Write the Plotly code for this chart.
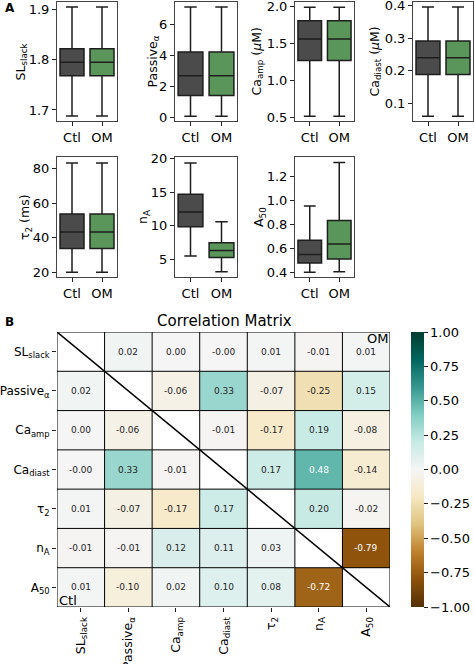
import plotly.graph_objects as go

W, H = 474, 664
FONT = "DejaVu Sans"

# ---------------- Panel A data (box statistics) ----------------
groups = ["Ctl", "OM"]
group_colors = ["#4b4b4b", "#5a965a"]

box_titles = ["SL<sub>slack</sub>", "Passive<sub>α</sub>", "Ca<sub>amp</sub> (<i>μ</i>M)",
              "Ca<sub>diast</sub> (<i>μ</i>M)", "τ<sub>2</sub> (ms)", "n<sub>A</sub>", "A<sub>50</sub>"]

# [Ctl, OM] per parameter
lower = [[1.688, 1.688], [0.06, 0.06], [0.514, 0.514], [0.060, 0.060], [20.0, 20.0], [5.5, 3.15], [0.403, 0.408]]
q1 =    [[1.768, 1.768], [1.41, 1.41], [1.267, 1.267], [0.188, 0.188], [33.8, 33.8], [9.85, 5.25], [0.481, 0.515]]
median = [[1.795, 1.795], [2.67, 2.67], [1.56, 1.56], [0.240, 0.240], [43.3, 43.3], [12.05, 6.3], [0.551, 0.640]]
q3 =    [[1.822, 1.822], [4.21, 4.21], [1.805, 1.805], [0.291, 0.291], [53.8, 53.8], [14.7, 7.45], [0.671, 0.836]]
upper = [[1.905, 1.905], [7.11, 7.11], [1.99, 1.99], [0.396, 0.396], [83.3, 83.3], [19.35, 10.6], [0.957, 1.32]]

y_ranges = [[1.678, 1.915], [-0.24, 7.43], [0.45, 2.06], [0.0455, 0.411], [17.3, 86.8], [2.35, 20.25], [0.364, 1.365]]
y_dticks = [0.1, 2, 0.5, 0.1, 20, 5, 0.2]
y_formats = [".1f", "d", ".1f", ".1f", "d", "d", ".1f"]

# ---------------- Panel B data (correlation matrix) ----------------
params = ["SL<sub>slack</sub>", "Passive<sub>α</sub>", "Ca<sub>amp</sub>", "Ca<sub>diast</sub>",
          "τ<sub>2</sub>", "n<sub>A</sub>", "A<sub>50</sub>"]
corr = [
    [None, 0.02, 0.00, -0.001, 0.01, -0.01, 0.01],
    [0.02, None, -0.06, 0.33, -0.07, -0.25, 0.15],
    [0.00, -0.06, None, -0.01, -0.17, 0.19, -0.08],
    [-0.001, 0.33, -0.01, None, 0.17, 0.48, -0.14],
    [0.01, -0.07, -0.17, 0.17, None, 0.20, -0.02],
    [-0.01, -0.01, 0.12, 0.11, 0.03, None, -0.79],
    [0.01, -0.10, 0.02, 0.10, 0.08, -0.72, None],
]
cbar_vals = [1.0, 0.75, 0.5, 0.25, 0.0, -0.25, -0.5, -0.75, -1.0]

# ---------------- layout geometry (pixels) ----------------
col_px = [(57, 117), (175, 237), (295, 354), (413, 473)]
row_px = [(2, 121), (157, 277)]
positions = [(0, 0), (0, 1), (0, 2), (0, 3), (1, 0), (1, 1), (1, 2)]
title_x_px = [21, 153, 257, 375, 25, 143, 259]

def xd(a, b):
    return [a / W, b / W]

def yd(top, bottom):
    return [1 - bottom / H, 1 - top / H]

fig = go.Figure()
layout = dict(
    width=W, height=H, margin=dict(l=0, r=0, t=0, b=0),
    paper_bgcolor="white", plot_bgcolor="white",
    font=dict(family=FONT, size=13, color="black"),
    showlegend=False,
)

axis_line = dict(showline=True, linecolor="#444444", linewidth=1, mirror=True,
                 showgrid=False, zeroline=False, ticks="outside", ticklen=4,
                 tickcolor="#222222", automargin=False, ticklabeloverflow="allow")

annotations = []
for i, (r, c) in enumerate(positions):
    n = i + 1
    xa = f"x{n}" if n > 1 else "x"
    ya = f"y{n}" if n > 1 else "y"
    for g in range(2):
        fig.add_trace(go.Box(
            x=[groups[g]], q1=[q1[i][g]], median=[median[i][g]], q3=[q3[i][g]],
            lowerfence=[lower[i][g]], upperfence=[upper[i][g]],
            fillcolor=group_colors[g], line=dict(color="#1e1e1e", width=1.5),
            width=0.8, whiskerwidth=0.5, boxpoints=False,
            xaxis=xa, yaxis=ya, hoverinfo="skip", showlegend=False,
        ))
    key = "" if n == 1 else str(n)
    layout["xaxis" + key] = dict(domain=xd(*col_px[c]), anchor=ya, type="category",
                                 categoryorder="array", categoryarray=groups,
                                 range=[-0.5, 1.5], tickfont=dict(size=13), **axis_line)
    layout["yaxis" + key] = dict(domain=yd(*row_px[r]), anchor=xa, range=y_ranges[i],
                                 dtick=y_dticks[i], tickformat=y_formats[i],
                                 tickfont=dict(size=13), **axis_line)
    top, bottom = row_px[r]
    annotations.append(dict(text=box_titles[i], xref="paper", yref="paper",
                            x=title_x_px[i] / W, y=1 - (top + bottom) / 2 / H,
                            xanchor="center", yanchor="middle", textangle=-90,
                            showarrow=False, font=dict(size=12.5)))

# ---------------- heatmap ----------------
nP = len(params)
idx = list(range(nP))
fig.add_trace(go.Heatmap(
    z=corr, x=idx, y=idx, colorscale="BrBG", zmin=-1, zmax=1,
    xaxis="x8", yaxis="y8", hoverinfo="skip", xgap=0, ygap=0,
    colorbar=dict(x=411 / W, xanchor="left", y=1 - 607 / H, yanchor="bottom",
                  len=275 / H, lenmode="fraction", thickness=13, thicknessmode="pixels",
                  xpad=0, ypad=0,
                  outlinewidth=0, ticks="outside", ticklen=4, tickcolor="#222222",
                  tickvals=cbar_vals, ticklabeloverflow="allow",
                  ticktext=[("−" if v < 0 else "") + f"{abs(v):.2f}" for v in cbar_vals],
                  tickfont=dict(family=FONT, size=13, color="black")),
))
layout["xaxis8"] = dict(domain=xd(57, 390), anchor="y8", range=[-0.5, nP - 0.5],
                        tickvals=idx, ticktext=params, tickangle=-90,
                        tickfont=dict(size=12.5), showgrid=False, zeroline=False,
                        ticks="outside", ticklen=4, tickcolor="#222222", automargin=False,
                        showline=False, ticklabeloverflow="allow")
layout["yaxis8"] = dict(domain=yd(332, 607), anchor="x8", range=[nP - 0.5, -0.5],
                        tickvals=idx, ticktext=params, tickfont=dict(size=12),
                        showgrid=False, zeroline=False, ticks="outside", ticklen=4,
                        tickcolor="#222222", automargin=False, showline=False,
                        ticklabeloverflow="allow")

shapes = []
for k in range(nP + 1):
    shapes.append(dict(type="line", xref="x8", yref="y8", x0=k - 0.5, x1=k - 0.5,
                       y0=-0.5, y1=nP - 0.5, line=dict(color="black", width=1)))
    shapes.append(dict(type="line", xref="x8", yref="y8", y0=k - 0.5, y1=k - 0.5,
                       x0=-0.5, x1=nP - 0.5, line=dict(color="black", width=1)))
shapes.append(dict(type="line", xref="x8", yref="y8", x0=-0.5, y0=-0.5,
                   x1=nP - 0.5, y1=nP - 0.5, line=dict(color="black", width=1.5)))
layout["shapes"] = shapes

for i in range(nP):
    for j in range(nP):
        v = corr[i][j]
        if v is None:
            continue
        annotations.append(dict(
            x=j, y=i, xref="x8", yref="y8", text=f"{v:.2f}", showarrow=False,
            font=dict(family=FONT, size=9, color="white" if abs(v) > 0.4 else "#262626")))

annotations += [
    dict(text="OM", xref="x8 domain", yref="y8 domain", x=1, y=1.01, xanchor="right",
         yanchor="top", showarrow=False, font=dict(size=13)),
    dict(text="Ctl", xref="x8 domain", yref="y8 domain", x=0, y=-0.01, xanchor="left",
         yanchor="bottom", showarrow=False, font=dict(size=13)),
    dict(text="Correlation Matrix", xref="paper", yref="paper", x=224 / W, y=1 - 321 / H,
         xanchor="center", yanchor="middle", showarrow=False, font=dict(size=15)),
    dict(text="<b>A</b>", xref="paper", yref="paper", x=3 / W, y=1 - 8 / H,
         xanchor="left", yanchor="middle", showarrow=False, font=dict(size=12)),
    dict(text="<b>B</b>", xref="paper", yref="paper", x=3 / W, y=1 - 322 / H,
         xanchor="left", yanchor="middle", showarrow=False, font=dict(size=12)),
]
layout["annotations"] = annotations

fig.update_layout(**layout)
fig.write_html("out.html")
